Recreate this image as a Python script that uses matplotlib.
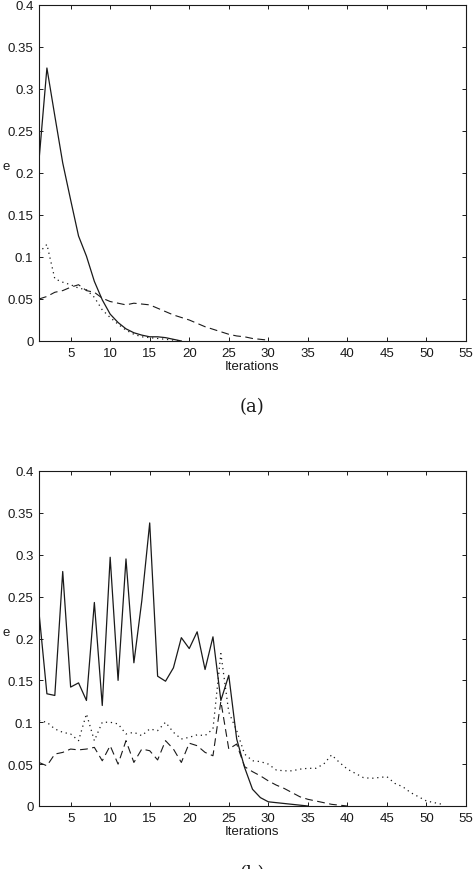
# Error vs. iterations, two panels (a) and (b)
import numpy as np
import matplotlib.pyplot as plt

# %%
# Values
# Panel (a)
x_a_solid = np.arange(1, 20)
e_a_solid = [0.215, 0.325, 0.268, 0.212, 0.168, 0.125, 0.101, 0.071, 0.049,
             0.032, 0.022, 0.0145, 0.0098, 0.007, 0.005, 0.005, 0.004, 0.002,
             0.0]
x_a_dot = np.arange(1, 20)
e_a_dot = [0.105, 0.115, 0.074, 0.070, 0.067, 0.063, 0.061, 0.052, 0.037,
           0.028, 0.020, 0.013, 0.008, 0.005, 0.004, 0.003, 0.002, 0.001,
           0.0]
x_a_dash = np.arange(1, 31)
e_a_dash = [0.050, 0.053, 0.058, 0.060, 0.064, 0.067, 0.060, 0.058, 0.051,
            0.047, 0.045, 0.043, 0.045, 0.044, 0.043, 0.039, 0.035, 0.031,
            0.028, 0.025, 0.021, 0.017, 0.014, 0.011, 0.008, 0.006, 0.005,
            0.003, 0.002, 0.001]

# Panel (b)
x_b_solid = np.arange(1, 36)
e_b_solid = [0.231, 0.134, 0.132, 0.280, 0.142, 0.147, 0.126, 0.243, 0.120,
             0.297, 0.150, 0.295, 0.171, 0.245, 0.338, 0.155, 0.149, 0.165,
             0.201, 0.188, 0.208, 0.163, 0.202, 0.126, 0.156, 0.080, 0.046,
             0.020, 0.010, 0.005, 0.004, 0.003, 0.002, 0.001, 0.0]
x_b_dot = np.arange(1, 53)
e_b_dot = [0.102, 0.100, 0.092, 0.088, 0.086, 0.078, 0.110, 0.078, 0.100,
           0.100, 0.098, 0.086, 0.088, 0.084, 0.092, 0.090, 0.100, 0.088,
           0.080, 0.082, 0.085, 0.084, 0.092, 0.182, 0.112, 0.090, 0.062,
           0.054, 0.053, 0.050, 0.043, 0.042, 0.042, 0.044, 0.045, 0.045,
           0.050, 0.061, 0.052, 0.044, 0.039, 0.034, 0.033, 0.034, 0.035,
           0.027, 0.023, 0.016, 0.011, 0.006, 0.004, 0.002]
x_b_dash = np.arange(1, 41)
e_b_dash = [0.052, 0.048, 0.062, 0.064, 0.068, 0.067, 0.068, 0.070, 0.054,
            0.072, 0.050, 0.078, 0.052, 0.068, 0.066, 0.055, 0.078, 0.068,
            0.052, 0.075, 0.072, 0.064, 0.060, 0.125, 0.068, 0.074, 0.047,
            0.041, 0.036, 0.030, 0.025, 0.021, 0.016, 0.011, 0.008, 0.006,
            0.004, 0.002, 0.001, 0.0]

x_ticks = [5, 10, 15, 20, 25, 30, 35, 40, 45, 50, 55]
y_ticks = [0, 0.05, 0.1, 0.15, 0.2, 0.25, 0.3, 0.35, 0.4]
y_ticklabels = ['0', '0.05', '0.1', '0.15', '0.2', '0.25', '0.3', '0.35', '0.4']

# %%
plt.rcParams['font.family'] = ['Liberation Sans', 'DejaVu Sans']
ink = '#1a1a1a'

fig = plt.figure(figsize=(4.74, 8.70), dpi=100)
ax_a = fig.add_axes([39/474, 1 - 342/870, 427/474, 336/870])
ax_b = fig.add_axes([39/474, 1 - 807/870, 427/474, 335/870])

panels = [
    (ax_a, (x_a_solid, e_a_solid), (x_a_dot, e_a_dot), (x_a_dash, e_a_dash)),
    (ax_b, (x_b_solid, e_b_solid), (x_b_dot, e_b_dot), (x_b_dash, e_b_dash)),
]

for ax, solid, dot, dash in panels:
    ax.plot(dash[0], dash[1], color=ink, lw=0.8, linestyle=(0, (7, 4)))
    ax.plot(dot[0], dot[1], color=ink, lw=0.9, linestyle=(0, (1, 3)))
    ax.plot(solid[0], solid[1], color=ink, lw=0.9, linestyle='-')
    ax.set_xlim(1, 55)
    ax.set_ylim(0, 0.4)
    ax.set_xticks(x_ticks)
    ax.set_yticks(y_ticks)
    ax.set_yticklabels(y_ticklabels)
    ax.tick_params(direction='in', top=True, right=True, length=3,
                   width=0.7, labelsize=9.5, colors=ink, pad=4)
    ax.set_xlabel('Iterations', fontsize=9.5, color=ink, labelpad=1)
    ax.set_ylabel('e', fontsize=9.5, color=ink, rotation=0,
                  ha='center', va='center')
    ax.yaxis.set_label_coords(-0.078, 0.52)
    for sp in ax.spines.values():
        sp.set_linewidth(0.8)
        sp.set_color(ink)

fig.text(252/474, 1 - 407/870, '(a)', ha='center', va='center',
         fontsize=13, family='DejaVu Serif', color=ink)
fig.text(252/474, 1 - 874/870, '(b)', ha='center', va='center',
         fontsize=13, family='DejaVu Serif', color=ink)

fig.savefig('out.png', dpi=100)
